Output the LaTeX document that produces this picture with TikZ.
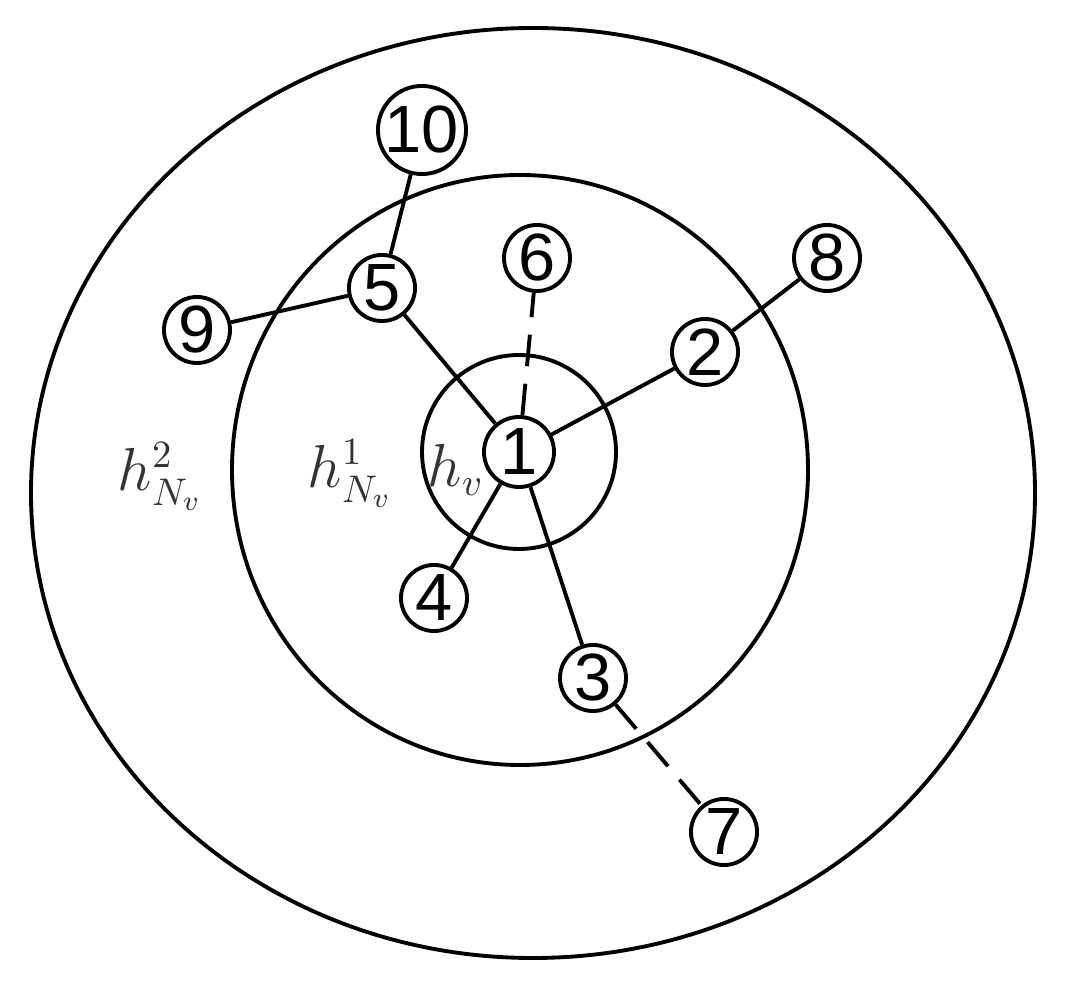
\documentclass[tikz,border=0pt]{standalone}
\usepackage{fontspec}
\setmainfont{Liberation Sans}
\begin{document}
\begin{tikzpicture}[x=0.01cm,y=-0.01cm,line width=1.1pt,
  vert/.style={draw,circle,minimum size=0.66cm,inner sep=0pt,fill=white,font=\fontsize{19}{19}\selectfont},
  lab/.style={font=\fontsize{16}{16}\selectfont,text=black!80},
  dsh/.style={dash pattern=on 9pt off 5pt}]
\useasboundingbox (0,0) rectangle (1067,995);
\draw (533,493) ellipse [x radius=502, y radius=465];
\draw (520,470) ellipse [x radius=288, y radius=295];
\draw (519,452) ellipse [x radius=97, y radius=97];
\node[vert,minimum size=0.7cm] (n1) at (519,452) {1};
\node[vert] (n2) at (705,352) {2};
\node[vert] (n3) at (593,678) {3};
\node[vert] (n4) at (434,598) {4};
\node[vert] (n5) at (382,288) {5};
\node[vert] (n6) at (537,258) {6};
\node[vert] (n7) at (724,832) {7};
\node[vert] (n8) at (827,258) {8};
\node[vert] (n9) at (197,330) {9};
\node[vert] (n10) at (422,130) {10};
\draw (n1) -- (n2); \draw (n1) -- (n3); \draw (n1) -- (n4); \draw (n1) -- (n5);
\draw[dsh] (n1) -- (n6); \draw[dsh] (n3) -- (n7);
\draw (n2) -- (n8); \draw (n5) -- (n9); \draw (n5) -- (n10);
\node[lab] (l2) at (160,477) {$h^2_{N_v}$};
\node[lab] (l1) at (350,474) {$h^1_{N_v}$};
\node[lab] (l0) at (456,470) {$h_v$};
\end{tikzpicture}
\end{document}
